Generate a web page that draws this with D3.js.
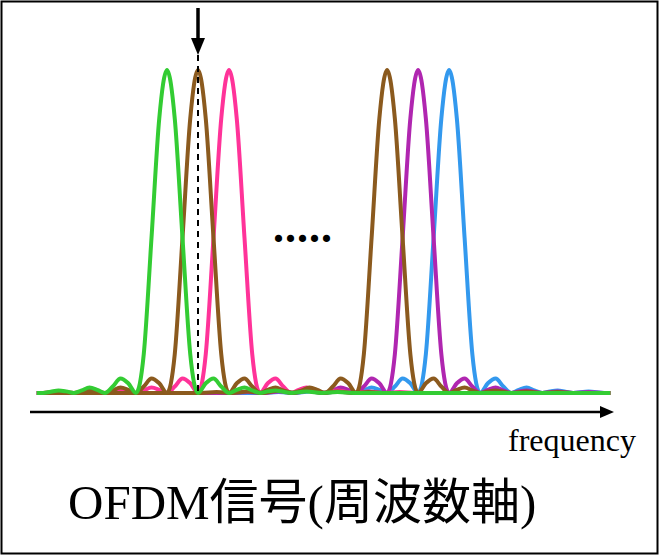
<!DOCTYPE html>
<html><head><meta charset="utf-8">
<script src="https://cdn.jsdelivr.net/npm/d3@7"></script>
<style>body{margin:0;background:#fff}svg{display:block}</style>
</head><body>
<svg id="c" width="660" height="556"></svg>
<script>
// subcarrier centres (in subcarrier-spacing units) and colours
const carriers = [10, 11, 16.1, 17.1, 18.1, 9];
const colors = ["#8b5a1e", "#ff3399", "#8b5a1e", "#b026b0", "#3399ee", "#33cc33"];
const drawOrder = [4, 3, 1, 2, 0, 5];
// spectral profile: offset (spacing units) -> relative power
const profOffsets = [0,0.25,0.5,0.75,1,1.25,1.5,1.75,2,2.25,2.5,2.75,3,3.25,3.5,3.75,4,4.5,5,5.5,6];
const profValues  = [1,0.85,0.48,0.12,0,0.03,0.045,0.02,0,0.01,0.017,0.008,0,0.005,0.008,0.004,0,0.005,0,0.003,0];
const xDomain = [4.8, 23.3];
const title = "OFDM信号(周波数軸)";
const axisLabel = "frequency";

const svg = d3.select("#c");
const x = d3.scaleLinear().domain([9, 10]).range([167, 198]);
const y = d3.scaleLinear().domain([0, 1]).range([393, 70]);

svg.append("rect").attr("x",1.5).attr("y",1.5).attr("width",656).attr("height",552)
  .attr("fill","none").attr("stroke","#000").attr("stroke-width",2);

const line = d3.line().x(d=>x(d[0])).y(d=>y(d[1])).curve(d3.curveMonotoneX);
const full = profOffsets.slice().reverse().map((o,i)=>[-o, profValues[profValues.length-1-i]])
  .concat(profOffsets.slice(1).map((o,i)=>[o, profValues[i+1]]));
drawOrder.forEach(i=>{
  const c = carriers[i];
  let pts = full.map(p=>[c+p[0], p[1]]);
  pts = [[xDomain[0], 0]].concat(pts.filter(p=>p[0]>xDomain[0] && p[0]<xDomain[1]), [[xDomain[1], 0]]);
  svg.append("path").attr("d", line(pts)).attr("fill","none")
    .attr("stroke", colors[i]).attr("stroke-width",4).attr("stroke-linejoin","round");
});

// dashed marker
svg.append("line").attr("x1",x(10)).attr("x2",x(10)).attr("y1",55).attr("y2",y(0))
  .attr("stroke","#000").attr("stroke-width",2).attr("stroke-dasharray","6,5");
svg.append("line").attr("x1",x(10)).attr("x2",x(10)).attr("y1",8).attr("y2",40)
  .attr("stroke","#000").attr("stroke-width",3.5);
svg.append("path").attr("d",`M${x(10)-7},38 L${x(10)+7},38 L${x(10)},55 Z`).attr("fill","#000");

// dots
svg.append("text").attr("x",273).attr("y",242).attr("font-family","Liberation Serif")
  .attr("font-size",44).attr("font-weight","bold").attr("letter-spacing",1).text(".....");

// frequency axis
svg.append("line").attr("x1",30).attr("x2",604).attr("y1",412).attr("y2",412)
  .attr("stroke","#000").attr("stroke-width",2.5);
svg.append("path").attr("d","M600,406 L614,412 L600,418 Z").attr("fill","#000");
svg.append("text").attr("x",508).attr("y",451).attr("font-family","Liberation Serif")
  .attr("font-size",32).text(axisLabel);
svg.append("text").attr("x",68).attr("y",519).attr("font-family","Liberation Serif, Noto Sans CJK JP")
  .attr("font-size",49).text(title);
</script>
</body></html>
